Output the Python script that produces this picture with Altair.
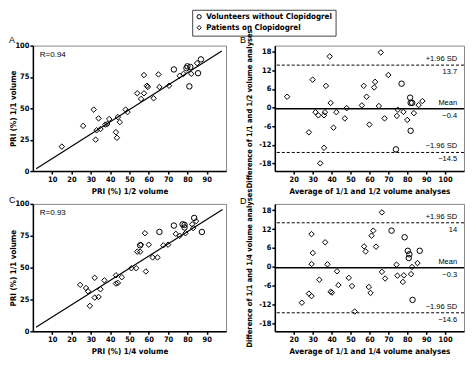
import altair as alt
import pandas as pd

FONT = "'Liberation Sans Narrow', 'DejaVu Sans Condensed', 'Liberation Sans', Arial, sans-serif"

VOL = "Volunteers without Clopidogrel"
PAT = "Patients on Clopidogrel"
groups = [VOL, PAT]
shapes = ["circle", "diamond"]

# ---- Panel A: PRI 1/2 volume (x) vs PRI 1/1 volume (y)
a_x = [15, 26, 31.5, 32.5, 33, 34, 35, 37.5, 38.5, 39.5, 43, 43.5, 44, 45, 48, 49, 54, 56, 57.5, 57.5,
       59, 59.5, 62.5, 65, 65.5, 70.5, 73, 76, 78, 79.5, 80, 81.5, 81, 82, 85, 85.5, 87]
a_y = [19.5, 36, 49, 25, 32.5, 42, 33.5, 37, 37.5, 41.5, 31, 26.5, 43, 39, 49, 47, 62, 57.5, 76.5, 62,
       68, 67, 58, 77, 67, 68, 81, 76, 77.5, 82, 83.5, 83, 67.5, 77.5, 86, 78, 89]
a_g = ["P"] * 26 + ["V", "P", "P", "V", "V", "V", "V", "P", "P", "V", "V"]
a_line_x = [1.7, 97.8]
a_line_y = [1.8, 95.6]
a_r = "R=0.94"

# ---- Panel B: Bland-Altman 1/1 vs 1/2
b_avg = [16.5, 28, 30, 31.5, 33, 34, 36, 36, 36.5, 37, 39, 39.5, 41, 42.5, 47, 48, 56, 57, 58.5, 60,
         62.5, 63, 65, 66, 68, 70, 74.5, 75, 74, 77, 78, 80, 81.5, 81.8, 82.6, 81.8, 83.5, 86, 88]
b_diff = [3.5, -8, 9, -1.5, -2.5, -18, -13, -2.5, -1.5, 7, 16.5, 1.5, -6.5, -1.5, -3.5, -0.2, 0.7, 7, 3.5, -5.5,
          6.5, 8.3, 0.5, 17.8, -3.5, 10.5, -2.7, -0.7, -13.5, 7.7, -1.4, -4, 3.2, 1.5, 1.5, -7.5, -1.8, 0.8, 2.1]
b_g = ["P"] * 28 + ["V", "V", "P", "P", "V", "V", "V", "V", "P", "P", "P"]
b_lines = [13.7, -0.4, -14.5]
b_above = ["+1.96 SD", "Mean", "\u22121.96 SD"]
b_below = ["13.7", "\u22120.4", "\u221214.5"]

# ---- Panel C: PRI 1/4 volume (x) vs PRI 1/1 volume (y)
c_x = [24.5, 27.5, 28.5, 29.5, 32, 32, 34, 35, 37, 43, 43, 44, 46, 51, 53.5, 54, 55.5, 55.5, 56, 58,
       58.5, 60, 62, 64.5, 65.5, 67.5, 70, 73, 74, 76, 77.5, 78.5, 78.5, 79, 82.5, 83, 83.5, 84.5, 87.5]
c_y = [36.5, 34, 31.5, 20, 42, 26.5, 27, 33, 40, 44, 37.5, 38, 42.5, 49.5, 49.5, 62.5, 62.5, 67.5, 68, 77,
       47, 68, 58, 58, 78, 67.5, 68, 83, 76.5, 75, 84, 83.5, 81.5, 77, 84, 81, 89, 86.5, 78]
c_g = ["P"] * 17 + ["V", "P", "P", "P", "P", "P", "P", "V", "P", "P", "V", "P", "P", "V", "V", "V", "P", "P", "P", "V", "P", "V"]
c_line_x = [1.6, 98.2]
c_line_y = [3.3, 95.6]
c_r = "R=0.93"

# ---- Panel D: Bland-Altman 1/1 vs 1/4
d_avg = [24.3, 28, 29.4, 29.4, 30.1, 29.4, 33.5, 36.6, 37.8, 39.5, 40.2, 42.9, 43.6, 49.1, 50.8, 52.2, 57.2, 58,
         59.7, 60.6, 61.1, 62, 63.5, 66.6, 66.6, 68.3, 71.7, 74.3, 74.8, 77.7, 78.2, 78.6, 80.3, 80.8, 81.1, 82,
         82.5, 82.8, 85.4, 86.6]
d_diff = [-11.4, -8.5, -9.3, 10.4, 4.4, 0.9, -4.1, 7.8, 0.8, -7.9, -8.2, -1.4, -5.8, -3.5, -6.1, -14.2, 6.5, 4.9,
          -6.4, -8.3, 9.9, 11.5, 6.4, 17.3, -1.6, -3.7, 11.5, 0.7, -2.8, -4.8, -2.7, 9.4, 5.1, 2.8, 4, -2.3,
          -0.05, -10.5, 1.2, 5.1]
d_g = ["P"] * 26 + ["V", "P", "P", "P", "P", "V", "V", "V", "V", "P", "P", "V", "P", "V"]
d_lines = [14, -0.3, -14.6]
d_above = ["+1.96 SD", "Mean", "\u22121.96 SD"]
d_below = ["14", "\u22120.3", "\u221214.6"]

scatter_xticks = [10, 20, 30, 40, 50, 60, 70, 80, 90]
scatter_yticks = [0, 25, 50, 75, 100]
ba_xticks = [20, 30, 40, 50, 60, 70, 80, 90, 100]
ba_yticks = [-18, -12, -6, 0, 6, 12, 18]

W_L, W_R = 194, 190
H_TOP, H_BOT = 126, 128

shape_scale = alt.Scale(domain=groups, range=shapes)
G = {"V": VOL, "P": PAT}


def letter_mark(letter, dx, dy):
    return alt.Chart(pd.DataFrame({"t": [letter]})).mark_text(
        align="left", baseline="middle", fontSize=9, font="Liberation Sans", color="black").encode(
        x=alt.value(dx), y=alt.value(dy), text="t:N")


def points(df, xsc, ysc, xax, yax, legend):
    return alt.Chart(df).mark_point(filled=False, size=30, strokeWidth=1, color="black", opacity=1).encode(
        x=alt.X("x:Q", scale=xsc, axis=xax),
        y=alt.Y("y:Q", scale=ysc, axis=yax),
        shape=alt.Shape("g:N", scale=shape_scale, legend=legend),
    )


def scatter_panel(xs, ys, gs, lx, ly, r_text, xtitle, ytitle, letter, W, H, legend, ldy):
    df = pd.DataFrame({"x": xs, "y": ys, "g": [G[g] for g in gs]})
    xsc = alt.Scale(domain=[0, 100], nice=False, zero=False)
    ysc = alt.Scale(domain=[0, 100], nice=False)
    xax = alt.Axis(values=scatter_xticks, tickCount=30, title=xtitle)
    yax = alt.Axis(values=scatter_yticks, tickCount=30, title=ytitle)
    pts = points(df, xsc, ysc, xax, yax, legend)
    line = alt.Chart(pd.DataFrame({"x": lx, "y": ly})).mark_line(color="black", strokeWidth=1.2).encode(
        x=alt.X("x:Q", scale=xsc), y=alt.Y("y:Q", scale=ysc))
    rt = alt.Chart(pd.DataFrame({"t": [r_text]})).mark_text(
        align="left", baseline="middle", fontSize=8, font="Liberation Sans", color="black").encode(
        x=alt.value(7), y=alt.value(9), text="t:N")
    return alt.layer(pts, line, rt, letter_mark(letter, -24, ldy)).properties(width=W, height=H)


def ba_panel(xs, ys, gs, lines, above, below, xtitle, ytitle, letter, W, H, ldy):
    df = pd.DataFrame({"x": xs, "y": ys, "g": [G[g] for g in gs]})
    xsc = alt.Scale(domain=[10, 110], nice=False, zero=False)
    ysc = alt.Scale(domain=[-20.5, 20], nice=False, zero=False)
    xax = alt.Axis(values=ba_xticks, tickCount=30, title=xtitle)
    yax = alt.Axis(values=ba_yticks, tickCount=30, title=ytitle, labelExpr="'' + datum.value",
                   titleFontSize=7.5, titlePadding=6)
    pts = points(df, xsc, ysc, xax, yax, None)
    ld = pd.DataFrame({"v": lines, "kind": ["sd", "mean", "sd"], "above": above, "below": below})
    sd = alt.Chart(ld).transform_filter("datum.kind == 'sd'").mark_rule(
        color="black", strokeWidth=1, strokeDash=[3, 2]).encode(y=alt.Y("v:Q", scale=ysc))
    mn = alt.Chart(ld).transform_filter("datum.kind == 'mean'").mark_rule(
        color="black", strokeWidth=1.6).encode(y=alt.Y("v:Q", scale=ysc))
    t_above = alt.Chart(ld).mark_text(align="right", baseline="bottom", dy=-2, fontSize=7.5,
                                      font="Liberation Sans", color="black").encode(
        x=alt.value(W - 7), y=alt.Y("v:Q", scale=ysc), text="above:N")
    t_below = alt.Chart(ld).mark_text(align="right", baseline="top", dy=3, fontSize=7.5,
                                      font="Liberation Sans", color="black").encode(
        x=alt.value(W - 7), y=alt.Y("v:Q", scale=ysc), text="below:N")
    return alt.layer(pts, sd, mn, t_above, t_below, letter_mark(letter, -35, ldy)).properties(width=W, height=H)


legend_a = alt.Legend(orient="none", legendX=160, legendY=-36, title=None, direction="vertical",
                      strokeColor="#444", fillColor="white", padding=3, rowPadding=1,
                      labelFont=FONT, labelFontSize=8, labelFontWeight="bold", labelColor="black",
                      symbolSize=18, symbolStrokeColor="black", symbolStrokeWidth=1, labelOffset=3)

A = scatter_panel(a_x, a_y, a_g, a_line_x, a_line_y, a_r, "PRI (%) 1/2 volume", "PRI (%) 1/1 volume",
                  "A", W_L, H_TOP, legend_a, -6)
B = ba_panel(b_avg, b_diff, b_g, b_lines, b_above, b_below, "Average of 1/1 and 1/2 volume analyses",
             "Difference of 1/1 and 1/2 volume analyses", "B", W_R, H_TOP, -6)
C = scatter_panel(c_x, c_y, c_g, c_line_x, c_line_y, c_r, "PRI (%) 1/4 volume", "PRI (%) 1/1 volume",
                  "C", W_L, H_BOT, None, -4)
D = ba_panel(d_avg, d_diff, d_g, d_lines, d_above, d_below, "Average of 1/1 and 1/4 volume analyses",
             "Difference of 1/1 and 1/4 volume analyses", "D", W_R, H_BOT, -3)

chart = alt.concat(A, B, C, D, columns=2, spacing={"row": 33, "column": 49}, bounds="flush").resolve_scale(
    shape="independent").resolve_legend(shape="independent").properties(padding=0).configure_view(
    stroke="#888", strokeWidth=1).configure_axis(
    domainColor="black", domainWidth=1.5, tickColor="black", tickWidth=1.5, tickSize=3,
    labelFont=FONT, labelFontSize=7.5, labelFontWeight="bold", labelColor="black", labelPadding=1,
    labelOverlap=False, labelFlush=False,
    titleFont=FONT, titleFontSize=8, titleFontWeight="bold", titleColor="black", grid=False).configure_axisY(
    minExtent=15, maxExtent=15, titlePadding=0).configure_axisX(titlePadding=5)

chart.save("out.html", embed_options={"renderer": "svg", "actions": False})
